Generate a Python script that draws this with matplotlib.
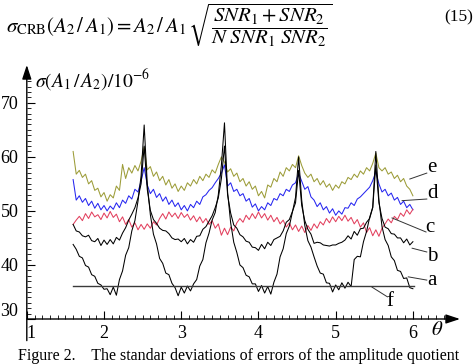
import numpy as np
import matplotlib
matplotlib.use('Agg')
import matplotlib.pyplot as plt
from matplotlib.transforms import ScaledTranslation

plt.rcParams['font.family'] = ['Liberation Serif', 'DejaVu Serif']
plt.rcParams['mathtext.fontset'] = 'stix'

# sampling grid of the rotation angle (rad)
theta = np.round(np.arange(1.60, 6.001, 0.04), 2)

# curve a (deep minima)
a = [43.8, 42.9, 41.6, 41.3, 39.9, 39.6, 38.2, 37.9, 36.6, 36.3,
     35.5, 35.6, 34.5, 35.9, 34.4, 37.3, 38.9, 41.8, 43.2, 46.3,
     48.2, 51.8, 56.5, 65.9, 55.0, 49.3, 45.7, 43.9, 41.2, 40.3,
     38.5, 38.2, 36.6, 35.8, 34.3, 35.9, 34.8, 36.1, 35.2, 36.5,
     37.3, 39.8, 41.0, 44.1, 45.9, 48.3, 49.7, 53.0, 58.5, 66.3,
     53.5, 47.8, 44.2, 42.3, 40.0, 39.5, 38.1, 37.8, 36.5, 36.5,
     35.1, 36.2, 34.8, 36.0, 34.6, 36.8, 38.3, 41.5, 43.0, 45.8,
     47.2, 49.8, 52.5, 60.0, 52.0, 47.3, 44.5, 43.3, 41.5, 39.8,
     38.5, 38.3, 36.7, 36.6, 35.0, 36.3, 35.4, 36.7, 35.7, 36.8,
     36.0, 41.0, 41.6, 41.5, 44.3, 46.2, 48.8, 50.7, 61.0, 52.0,
     47.1, 44.7, 43.6, 41.5, 40.8, 39.0, 38.8, 37.5, 37.6, 35.8, 35.6]

# curve b (shallow minima)
b = [47.5, 46.3, 46.1, 45.4, 45.2, 45.5, 44.5, 44.3, 44.9, 43.6,
     44.6, 43.8, 44.7, 43.9, 45.1, 44.6, 45.9, 46.9, 48.3, 49.4,
     50.6, 52.4, 55.0, 62.0, 54.0, 50.1, 48.4, 47.7, 46.8, 46.4,
     46.3, 45.8, 45.0, 44.7, 44.8, 44.3, 44.9, 43.9, 44.7, 44.2,
     45.3, 45.4, 46.6, 47.1, 48.1, 49.1, 50.6, 52.4, 56.0, 62.0,
     53.0, 49.6, 47.4, 46.8, 45.6, 45.2, 44.4, 44.2, 43.3, 43.2,
     42.7, 43.8, 43.0, 44.2, 43.6, 44.7, 45.0, 45.3, 46.3, 47.9,
     48.4, 49.9, 51.5, 57.5, 51.0, 48.2, 46.6, 45.7, 44.0, 44.2,
     44.1, 43.7, 43.6, 43.5, 43.7, 43.7, 44.0, 44.2, 44.6, 45.4,
     44.8, 46.2, 45.5, 46.7, 46.8, 47.9, 48.6, 50.6, 58.5, 51.5,
     48.6, 47.0, 46.7, 45.8, 45.7, 45.0, 45.0, 44.1, 44.8, 43.7, 44.3]

# curve c (red)
c = [47.5, 48.3, 49.0, 48.2, 49.5, 48.6, 49.8, 48.9, 49.3, 48.4,
     49.6, 48.7, 49.9, 48.8, 49.4, 48.0, 48.9, 47.5, 48.4, 47.0,
     47.8, 46.5, 47.5, 46.6, 47.6, 46.8, 48.0, 47.4, 48.6, 49.5,
     48.5, 49.8, 48.9, 49.6, 48.6, 49.7, 48.8, 49.4, 48.3, 49.1,
     48.0, 48.9, 47.8, 48.6, 47.5, 48.2, 46.8, 47.6, 45.5, 46.8,
     45.6, 47.0, 46.3, 47.8, 48.6, 47.9, 49.2, 48.4, 49.5, 48.6,
     49.8, 48.7, 49.5, 48.3, 49.2, 48.0, 48.8, 47.6, 48.3, 47.0,
     47.8, 46.5, 47.4, 46.2, 47.2, 46.0, 47.3, 46.4, 47.6, 46.8,
     48.0, 47.4, 48.6, 47.8, 48.9, 48.0, 49.0, 48.2, 49.2, 48.1,
     48.8, 47.6, 48.4, 47.0, 47.8, 46.0, 46.9, 45.4, 46.5, 45.3,
     46.8, 47.6, 48.5, 47.8, 49.0, 48.4, 49.6, 49.0, 50.2, 49.4, 50.3]

# curve d (blue)
d = [55.8, 52.0, 52.8, 51.6, 52.3, 51.0, 51.8, 50.5, 51.4, 50.2,
     51.0, 50.0, 50.9, 50.3, 51.5, 50.6, 52.0, 51.4, 52.8, 52.2,
     54.0, 53.5, 55.5, 58.0, 54.8, 53.2, 54.0, 52.5, 53.2, 51.8,
     52.6, 51.2, 52.0, 50.8, 51.5, 50.2, 51.0, 50.0, 51.2, 50.6,
     51.8, 51.2, 52.6, 53.0, 53.8, 54.3, 55.2, 56.0, 57.0, 58.5,
     54.6, 55.2, 53.6, 54.0, 52.8, 53.2, 51.8, 52.3, 50.7, 51.3,
     50.0, 50.8, 50.2, 51.5, 51.0, 52.3, 52.0, 53.2, 52.8, 54.0,
     53.6, 54.8, 55.2, 57.0, 55.5, 54.0, 54.5, 52.6, 52.0, 50.8,
     51.5, 50.2, 50.8, 49.6, 50.4, 49.2, 50.0, 49.4, 50.6, 50.5,
     51.5, 51.0, 52.2, 52.6, 53.2, 53.8, 54.4, 55.6, 57.2, 55.0,
     53.5, 54.0, 52.8, 53.3, 52.0, 52.5, 51.2, 51.8, 50.6, 51.2, 50.2]

# curve e (olive)
e = [61.0, 56.8, 57.5, 56.2, 56.8, 55.0, 55.6, 53.8, 54.2, 52.6,
     53.4, 51.8, 53.0, 52.4, 54.6, 53.8, 58.6, 56.0, 58.0, 57.0,
     58.4, 57.4, 59.2, 61.8, 57.6, 58.2, 56.4, 57.2, 55.6, 56.4,
     54.8, 55.8, 54.2, 55.0, 53.6, 54.6, 53.8, 55.2, 54.6, 55.8,
     55.0, 56.4, 55.6, 56.8, 56.2, 57.6, 57.0, 58.6, 60.0, 59.0,
     57.2, 57.8, 56.4, 57.0, 55.4, 56.0, 54.6, 55.4, 54.0, 54.6,
     52.8, 53.6, 52.4, 54.8, 54.4, 56.0, 55.4, 57.2, 56.4, 58.0,
     57.4, 58.6, 58.0, 60.2, 58.4, 57.0, 56.2, 56.8, 55.4, 56.0,
     54.8, 55.6, 54.4, 55.0, 53.8, 54.8, 54.2, 55.4, 55.0, 56.2,
     55.8, 56.8, 56.2, 57.4, 56.8, 58.0, 57.4, 58.8, 60.7, 58.0,
     57.4, 58.0, 56.8, 57.2, 56.0, 56.6, 55.4, 56.0, 54.6, 54.0, 52.8]

# line f: Cramer-Rao bound
f_level = 36.1
f_range = [1.60, 6.02]

curve_names = ['e', 'd', 'c', 'b', 'a']
curve_data = [e, d, c, b, a]
curve_colors = ['#9c9c38', '#2626f0', '#e2405e', 'black', 'black']

# label text position, leader start, leader end (data coords)
labels = {'e': ((6.25, 58.1), (5.96, 55.9), (6.18, 57.0)),
          'd': ((6.25, 53.3), (5.86, 51.9), (6.18, 52.2)),
          'c': ((6.22, 46.9), (5.73, 48.7), (6.17, 46.1)),
          'b': ((6.25, 41.5), (5.99, 43.1), (6.18, 42.4)),
          'a': ((6.25, 37.2), (5.94, 37.8), (6.18, 37.2)),
          'f': ((5.70, 33.3), (5.47, 35.9), (5.67, 34.1))}

fig = plt.figure(figsize=(4.74, 3.64), dpi=100)
ax = fig.add_axes([26.8/474, 45/364, 433.2/474, 254/364])
ax.set_xlim(1, 6.61)
ax.set_ylim(30, 77)
for s in ax.spines.values():
    s.set_visible(False)

for name, vals, col in zip(curve_names, curve_data, curve_colors):
    ax.plot(theta, vals, color=col, lw=0.75)
ax.plot(f_range, [f_level, f_level], color='#3a3a3a', lw=1.0)

for name, (txt, p0, p1) in labels.items():
    ax.plot([p0[0], p1[0]], [p0[1], p1[1]], color='#333333', lw=0.7, clip_on=False)
    ax.text(txt[0], txt[1], name, fontsize=15, ha='center', va='center')

# axes with arrows
arrow = dict(arrowstyle='-|>,head_length=0.85,head_width=0.28', color='black',
             lw=1.0, shrinkA=0, shrinkB=0, mutation_scale=10)
ax.annotate('', xy=(1, 77), xytext=(1, 26.0), arrowprops=arrow, annotation_clip=False)
ax.annotate('', xy=(6.61, 30), xytext=(1, 30), arrowprops=arrow, annotation_clip=False)

ax.set_xticks([1, 2, 3, 4, 5, 6])
ax.set_xticks(np.arange(1.1, 6.5, 0.1), minor=True)
ax.set_yticks([30, 40, 50, 60, 70])
ax.set_yticks(np.arange(31, 75, 1), minor=True)
ax.tick_params(axis='both', which='major', direction='in', length=6, width=0.8,
               labelsize=13, pad=4)
ax.tick_params(axis='both', which='minor', direction='in', length=3, width=0.6)
ax.tick_params(axis='y', which='major', pad=6)

# "30" raised off the x axis, "1" nudged right of the y axis
ylab = ax.get_yticklabels()
ylab[0].set_transform(ylab[0].get_transform() + ScaledTranslation(0, 9/100, fig.dpi_scale_trans))
xlab = ax.get_xticklabels()
xlab[0].set_transform(xlab[0].get_transform() + ScaledTranslation(4/100, 0, fig.dpi_scale_trans))

ax.text(6.31, 27.9, r'$\theta$', fontsize=15, ha='center', va='center')
ax.text(1.10, 74.2, r'$\sigma\left(A_1\,/\,A_2\right)/10^{-6}$', fontsize=14,
        ha='left', va='center')

eq = (r'$\sigma_{\mathrm{CRB}}\left(A_2\,/\,A_1\right) = A_2\,/\,A_1\,'
      r'\sqrt{\dfrac{SNR_1 + SNR_2}{N\ SNR_1\ SNR_2}}$')
fig.text(0.012, 1 - 25/364, eq, fontsize=15, ha='left', va='center')
fig.text(0.999, 1 - 17/364, '(15)', fontsize=12.5, ha='right', va='center')

fig.text(18/474, 1 - 356/364,
         'Figure 2.    The standar deviations of errors of the amplitude quotient',
         fontsize=11.5, ha='left', va='center')

fig.savefig('out.png', dpi=100)
